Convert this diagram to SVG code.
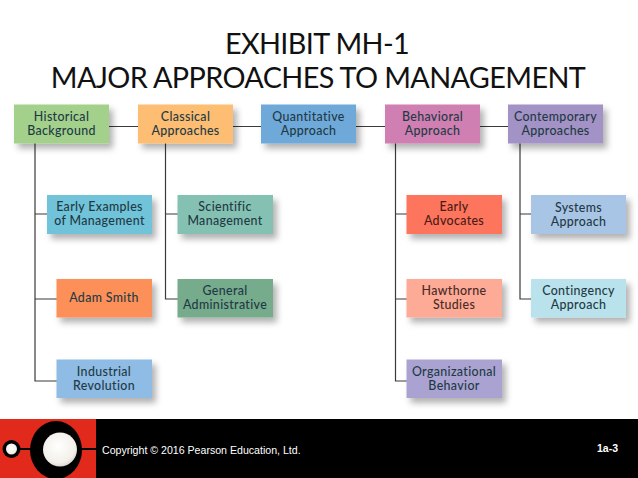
<svg xmlns="http://www.w3.org/2000/svg" width="638" height="478" viewBox="0 0 638 478">
<style>
.title{font-family:Lato,"Liberation Sans",sans-serif;font-size:28.8px;fill:#111;text-anchor:middle;letter-spacing:-.62px}
.l{font-family:Lato,"Liberation Sans",sans-serif;font-size:12.4px;font-weight:500;text-anchor:middle;fill:#1f3a44;letter-spacing:.35px}
.b{filter:url(#s)}
.c{fill:none;stroke:#3a3a3a;stroke-width:1.2}
.f{font-family:"Liberation Sans",Arial,sans-serif;fill:#fff}
</style>
<defs>
<filter id="s" x="-15%" y="-20%" width="135%" height="160%"><feDropShadow dx="4" dy="5" stdDeviation="3" flood-color="#000" flood-opacity=".3"/></filter>
<radialGradient id="w" cx=".45" cy=".4" r=".7"><stop offset="0" stop-color="#fff"/><stop offset=".7" stop-color="#f3f0ea"/><stop offset="1" stop-color="#c9c5bc"/></radialGradient>
</defs>
<rect width="638" height="478" fill="#fff"/>
<text class="title" x="317" y="53.500">EXHIBIT MH-1</text>
<text class="title" x="318" y="88">MAJOR APPROACHES TO MANAGEMENT</text>
<g id="connectors">
<path class="c" d="M109 126.500H138M233 126.500H261M356 126.500H385M480 126.500H508"/>
<path class="c" d="M35 143V381H57M35 214H47M35 299H57"/>
<path class="c" d="M165.500 143V299H178M165.500 214H178"/>
<path class="c" d="M395.500 143V381H407M395.500 214H407M395.500 299H407"/>
<path class="c" d="M520 143V299H531M520 214H531"/>
</g>
<g id="historical"><rect class="b" x="14" y="104.500" width="95" height="39" fill="#a3d18c"/><text class="l" x="61.500" y="121">Historical</text><text class="l" x="61.500" y="135">Background</text></g>
<g id="classical"><rect class="b" x="138" y="104.500" width="95" height="39" fill="#fdbd72"/><text class="l" x="185.500" y="121">Classical</text><text class="l" x="185.500" y="135">Approaches</text></g>
<g id="quantitative"><rect class="b" x="261" y="104.500" width="95" height="39" fill="#6ea9da"/><text class="l" x="308.500" y="121">Quantitative</text><text class="l" x="308.500" y="135">Approach</text></g>
<g id="behavioral"><rect class="b" x="385" y="104.500" width="95" height="39" fill="#cf7fb2"/><text class="l" x="432.500" y="121">Behavioral</text><text class="l" x="432.500" y="135">Approach</text></g>
<g id="contemporary"><rect class="b" x="508" y="104.500" width="95" height="39" fill="#a392c6"/><text class="l" x="555.500" y="121">Contemporary</text><text class="l" x="555.500" y="135">Approaches</text></g>
<g id="early-examples"><rect class="b" x="47" y="195" width="105" height="39" fill="#6fc3d9"/><text class="l" x="99.500" y="211">Early Examples</text><text class="l" x="99.500" y="225">of Management</text></g>
<g id="adam-smith"><rect class="b" x="56.500" y="279" width="95.500" height="38.500" fill="#fd9058"/><text class="l" x="104" y="302">Adam Smith</text></g>
<g id="industrial"><rect class="b" x="56.500" y="359.500" width="95.500" height="38.500" fill="#8fbce4"/><text class="l" x="104" y="376">Industrial</text><text class="l" x="104" y="390">Revolution</text></g>
<g id="scientific"><rect class="b" x="177.500" y="195" width="95.500" height="39" fill="#85c1b2"/><text class="l" x="225" y="211">Scientific</text><text class="l" x="225" y="225">Management</text></g>
<g id="general"><rect class="b" x="177.500" y="279" width="95.500" height="38.500" fill="#76ab8c"/><text class="l" x="225" y="295">General</text><text class="l" x="225" y="309">Administrative</text></g>
<g id="early-advocates"><rect class="b" x="406.500" y="195" width="95.500" height="39" fill="#fc745b"/><text class="l" x="454" y="211" style="fill:#4a1a16">Early</text><text class="l" x="454" y="225" style="fill:#4a1a16">Advocates</text></g>
<g id="hawthorne"><rect class="b" x="406.500" y="279" width="95.500" height="38.500" fill="#fdaa96"/><text class="l" x="454" y="295" style="fill:#4a2a26">Hawthorne</text><text class="l" x="454" y="309" style="fill:#4a2a26">Studies</text></g>
<g id="organizational"><rect class="b" x="406.500" y="359.500" width="95.500" height="38.500" fill="#aaa3d2"/><text class="l" x="454" y="376">Organizational</text><text class="l" x="454" y="390">Behavior</text></g>
<g id="systems"><rect class="b" x="531" y="195" width="95" height="39" fill="#a9c5e6"/><text class="l" x="578.500" y="212">Systems</text><text class="l" x="578.500" y="226">Approach</text></g>
<g id="contingency"><rect class="b" x="531" y="279" width="95" height="38.500" fill="#b9e2ec"/><text class="l" x="578.500" y="295">Contingency</text><text class="l" x="578.500" y="309">Approach</text></g>
<rect x="0" y="419" width="638" height="59" fill="#000"/>
<rect x="0" y="419" width="96" height="59" fill="#e22a1c"/>
<path d="M12 449H96" stroke="#000" stroke-width="2"/>
<circle cx="11.500" cy="449" r="9" fill="#000"/>
<circle cx="11.500" cy="449" r="5.500" fill="url(#w)"/>
<ellipse cx="56" cy="450" rx="26" ry="29" fill="#000"/>
<circle cx="60" cy="449.500" r="17" fill="url(#w)"/>
<text class="f" x="102" y="454" font-size="10.600">Copyright © 2016 Pearson Education, Ltd.</text>
<text class="f" x="597" y="452" font-size="10.500" font-weight="700">1a-3</text>
</svg>
